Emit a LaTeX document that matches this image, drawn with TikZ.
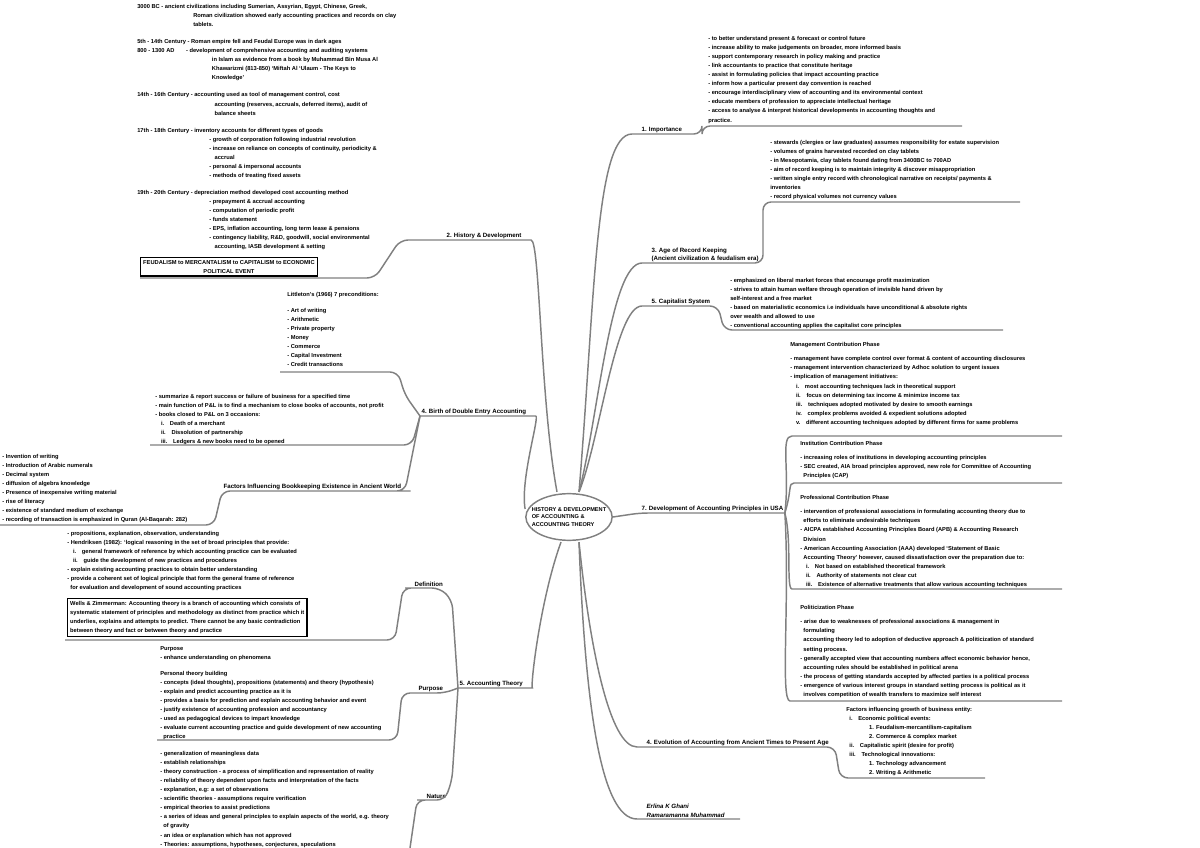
\documentclass[tikz,border=0pt]{standalone}
\usepackage{fontspec}
\setmainfont{Liberation Sans}
\usetikzlibrary{shapes.geometric}
\begin{document}
\begin{tikzpicture}[x=0.75pt,y=-0.75pt,
 txt/.style={anchor=north west,align=left,inner sep=0,font=\fontsize{4.3}{6.8}\selectfont\bfseries},
 lbl/.style={anchor=south west,inner sep=1pt,font=\fontsize{4.6}{6}\selectfont\bfseries},
 br/.style={draw=black!50,line width=1.1pt,rounded corners=6pt},
 box/.style={draw,line width=0.8pt,anchor=north west,align=center,inner sep=2pt,font=\fontsize{4.3}{6.8}\selectfont\bfseries}]
\useasboundingbox (0,0) rectangle (1200,848);
% centre
\node[ellipse,draw=black!50,line width=1.1pt,minimum width=58pt,minimum height=35pt,inner xsep=-5pt,inner ysep=-2pt,align=left,font=\fontsize{4.2}{5.6}\selectfont\bfseries] (c) at (569,517) {HISTORY \& DEVELOPMENT\\OF ACCOUNTING \&\\ACCOUNTING THEORY};

% ---------- 1. Importance
\node[lbl] (imp) at (640,134) {1. Importance};
\node[txt] (impt) at (708,36) {- to better understand present \& forecast or control future\\- increase ability to make judgements on broader, more informed basis\\- support contemporary research in policy making and practice\\- link accountants to practice that constitute heritage\\- assist in formulating policies that impact accounting practice\\- inform how a particular present day convention is reached\\- encourage interdisciplinary view of accounting and its environmental context\\- educate members of profession to appreciate intellectual heritage\\- access to analyse \& interpret historical developments in accounting thoughts and\\practice.};
\draw[br] (c.north) ++(10,-1) coordinate (c1) .. controls (595,300) and (595,134) .. (imp.south west) -- (imp.south east) -- (702,134) -- (702,126) -- (962,126);

% ---------- 3. Age of record keeping
\node[lbl,align=left,anchor=south west] (age) at (650,263) {3. Age of Record Keeping\\(Ancient civilization \& feudalism era)};
\node[txt] (aget) at (770,140) {- stewards (clergies or law graduates) assumes responsibility for estate supervision\\- volumes of grains harvested recorded on clay tablets\\- in Mesopotamia, clay tablets found dating from 3400BC to 700AD\\- aim of record keeping is to maintain integrity \& discover misappropriation\\- written single entry record with chronological narrative on receipts/ payments \&\\inventories\\- record physical volumes not currency values};
\draw[br] (c1) .. controls (598,420) and (610,263) .. (age.south west) -- (763,263) -- (763,202) -- (1020,202);

% ---------- 5. Capitalist system
\node[lbl] (cap) at (650,306) {5. Capitalist System};
\node[txt] (capt) at (730,278) {- emphasized on liberal market forces that encourage profit maximization\\- strives to attain human welfare through operation of invisible hand driven by\\self-interest and a free market\\- based on materialistic economics i.e individuals have unconditional \& absolute rights\\over wealth and allowed to use\\- conventional accounting applies the capitalist core principles};
\draw[br] (c1) .. controls (600,440) and (615,306) .. (cap.south west) -- (718,306) -- (724,330) -- (1003,330);

% ---------- 7. Development USA
\node[lbl] (usa) at (640,513) {7. Development of Accounting Principles in USA};
\draw[br] (c.east) -- (usa.south west) -- (usa.south east) coordinate (uj);
\node[txt] (m1) at (790,342) {Management Contribution Phase\\[4pt]- management have complete control over format \& content of accounting disclosures\\- management intervention characterized by Adhoc solution to urgent issues\\- implication of management initiatives:\\\quad i.\quad most accounting techniques lack in theoretical support\\\quad ii.\quad focus on determining tax income \& minimize income tax\\\quad iii.\quad techniques adopted motivated by desire to smooth earnings\\\quad iv.\quad complex problems avoided \& expedient solutions adopted\\\quad v.\quad different accounting techniques adopted by different firms for same problems};
\node[txt] (m2) at (800,441) {Institution Contribution Phase\\[4pt]- increasing roles of institutions in developing accounting principles\\- SEC created, AIA broad principles approved, new role for Committee of Accounting\\\ \ Principles (CAP)};
\node[txt] (m3) at (800,495) {Professional Contribution Phase\\[4pt]- intervention of professional associations in formulating accounting theory due to\\\ \ efforts to eliminate undesirable techniques\\- AICPA established Accounting Principles Board (APB) \& Accounting Research\\\ \ Division\\- American Accounting Association (AAA) developed `Statement of Basic\\\ \ Accounting Theory' however, caused dissatisfaction over the preparation due to:\\\quad i.\quad Not based on established theoretical framework\\\quad ii.\quad Authority of statements not clear cut\\\quad iii.\quad Existence of alternative treatments that allow various accounting techniques};
\node[txt] (m4) at (800,605) {Politicization Phase\\[4pt]- arise due to weaknesses of professional associations \& management in\\\ \ formulating\\\ \ accounting theory led to adoption of deductive approach \& politicization of standard\\\ \ setting process.\\- generally accepted view that accounting numbers affect economic behavior hence,\\\ \ accounting rules should be established in political arena\\- the process of getting standards accepted by affected parties is a political process\\- emergence of various interest groups in standard setting process is political as it\\\ \ involves competition of wealth transfers to maximize self interest};
\draw[br] (uj) .. controls (790,470) and (780,436) .. (800,436) -- (1062,436);
\draw[br] (uj) .. controls (792,490) and (788,483) .. (802,483) -- (1062,483);
\draw[br] (uj) .. controls (792,540) and (786,589) .. (800,589) -- (1062,589);
\draw[br] (uj) .. controls (790,600) and (780,701) .. (798,701) -- (1062,701);

% ---------- 4. Evolution
\node[lbl] (evo) at (645,747) {4. Evolution of Accounting from Ancient Times to Present Age};
\node[txt] (evot) at (846,707) {Factors influencing growth of business entity:\\\ \ i.\quad Economic political events:\\\qquad\qquad 1. Feudalism-mercantilism-capitalism\\\qquad\qquad 2. Commerce \& complex market\\\ \ ii.\quad Capitalistic spirit (desire for profit)\\\ \ iii.\quad Technological innovations:\\\qquad\qquad 1. Technology advancement\\\qquad\qquad 2. Writing \& Arithmetic};
\draw[br] (c.south) ++(10,1) coordinate (c2) .. controls (590,650) and (610,747) .. (evo.south west) -- (835,747) -- (840,778) -- (985,778);

% ---------- authors
\node[lbl,align=left,font=\fontsize{4.6}{6.5}\selectfont\bfseries\itshape] (au) at (645,819) {Erlina K Ghani\\Ramaramanna Muhammad};
\draw[br] (c2) .. controls (585,700) and (600,819) .. (au.south west) -- (740,819);

% ---------- 2. History
\node[lbl] (his) at (445,240) {2. History \& Development};
\node[txt] (hist) at (137,4) {3000 BC - ancient civilizations including Sumerian, Assyrian, Egypt, Chinese, Greek,\\\hspace{42pt}Roman civilization showed early accounting practices and records on clay\\\hspace{42pt}tablets.\\[6pt]5th - 14th Century - Roman empire fell and Feudal Europe was in dark ages\\800 - 1300 AD\qquad - development of comprehensive accounting and auditing systems\\\hspace{56pt}in Islam as evidence from a book by Muhammad Bin Musa Al\\\hspace{56pt}Khawarizmi (813-850) `Miftah Al `Ulaum - The Keys to\\\hspace{56pt}Knowledge'\\[6pt]14th - 16th Century - accounting used as tool of management control, cost\\\hspace{58pt}accounting (reserves, accruals, deferred items), audit of\\\hspace{58pt}balance sheets\\[6pt]17th - 18th Century - inventory accounts for different types of goods\\\hspace{54pt}- growth of corporation following industrial revolution\\\hspace{54pt}- increase on reliance on concepts of continuity, periodicity \&\\\hspace{58pt}accrual\\\hspace{54pt}- personal \& impersonal accounts\\\hspace{54pt}- methods of treating fixed assets\\[6pt]19th - 20th Century - depreciation method developed cost accounting method\\\hspace{54pt}- prepayment \& accrual accounting\\\hspace{54pt}- computation of periodic profit\\\hspace{54pt}- funds statement\\\hspace{54pt}- EPS, inflation accounting, long term lease \& pensions\\\hspace{54pt}- contingency liability, R\&D, goodwill, social environmental\\\hspace{58pt}accounting, IASB development \& setting};
\node[box] (feu) at (140,257) {FEUDALISM to MERCANTALISM to CAPITALISM to ECONOMIC\\POLITICAL EVENT};
\draw[br] (c.north) ++(-12,-1) coordinate (c3) .. controls (540,400) and (540,240) .. (his.south east) -- (his.south west) -- (400,240) -- (375,278) -- (140,278);

% ---------- 4. Birth of double entry
\node[lbl] (bir) at (420,416) {4. Birth of Double Entry Accounting};
\node[txt] (lit) at (287,292) {Littleton's (1966) 7 preconditions:\\[5pt]- Art of writing\\- Arithmetic\\- Private property\\- Money\\- Commerce\\- Capital Investment\\- Credit transactions};
\node[txt] (bt) at (155,394) {- summarize \& report success or failure of business for a specified time\\- main function of P\&L is to find a mechanism to close books of accounts, not profit\\- books closed to P\&L on 3 occasions:\\\quad i.\quad Death of a merchant\\\quad ii.\quad Dissolution of partnership\\\quad iii.\quad Ledgers \& new books need to be opened};
\draw[br] (c.west) ++(0,-8) coordinate (c4) .. controls (520,480) and (540,416) .. (bir.south east) -- (bir.south west) coordinate (bj);
\draw[br] (bj) -- (405,395) -- (398,372) -- (280,372);
\draw[br] (bj) -- (412,445) -- (150,445);

% ---------- factors ancient world
\node[lbl] (fac) at (222,491) {Factors Influencing Bookkeeping Existence in Ancient World};
\node[txt] (fact) at (2,454) {- Invention of writing\\- Introduction of Arabic numerals\\- Decimal system\\- diffusion of algebra knowledge\\- Presence of inexpensive writing material\\- rise of literacy\\- existence of standard medium of exchange\\- recording of transaction is emphasized in Quran (Al-Baqarah: 282)};
\draw[br] (bj) -- (405,491) -- (fac.south east) -- (fac.south west) -- (214,525) -- (0,525);

% ---------- 5. Accounting theory
\node[lbl] (th) at (458,688) {5. Accounting Theory};
\draw[br] (c.south) ++(-8,1) .. controls (540,600) and (530,688) .. (th.south east) -- (th.south west) coordinate (tj);
\node[lbl] (def) at (413,588) {Definition};
\node[lbl] (pur) at (417,693) {Purpose};
\node[lbl] (nat) at (425,800) {Nature};
\draw[br] (tj) -- (452,600) -- (440,588) -- (def.south west) -- (403,588) -- (395,640) -- (65,640);
\draw[br] (tj) -- (445,693) -- (pur.south west) -- (402,693) -- (397,740) -- (157,740);
\draw[br] (tj) -- (452,780) -- (445,800) -- (nat.south west) -- (417,800) -- (410,848);
\node[txt] (dt) at (67,531) {- propositions, explanation, observation, understanding\\- Hendriksen (1982): `logical reasoning in the set of broad principles that provide:\\\quad i.\quad general framework of reference by which accounting practice can be evaluated\\\quad ii.\quad guide the development of new practices and procedures\\- explain existing accounting practices to obtain better understanding\\- provide a coherent set of logical principle that form the general frame of reference\\\ \ for evaluation and development of sound accounting practices};
\node[box,align=left,inner sep=2pt] (wz) at (67,598) {Wells \& Zimmerman: Accounting theory is a branch of accounting which consists of\\systematic statement of principles and methodology as distinct from practice which it\\underlies, explains and attempts to predict. There cannot be any basic contradiction\\between theory and fact or between theory and practice};
\node[txt] (pt) at (160,646) {Purpose\\- enhance understanding on phenomena\\[5pt]Personal theory building\\- concepts (ideal thoughts), propositions (statements) and theory (hypothesis)\\- explain and predict accounting practice as it is\\- provides a basis for prediction and explain accounting behavior and event\\- justify existence of accounting profession and accountancy\\- used as pedagogical devices to impart knowledge\\- evaluate current accounting practice and guide development of new accounting\\\ \ practice};
\node[txt] (nt) at (160,751) {- generalization of meaningless data\\- establish relationships\\- theory construction - a process of simplification and representation of reality\\- reliability of theory dependent upon facts and interpretation of the facts\\- explanation, e.g: a set of observations\\- scientific theories - assumptions require verification\\- empirical theories to assist predictions\\- a series of ideas and general principles to explain aspects of the world, e.g. theory\\\ \ of gravity\\- an idea or explanation which has not approved\\- Theories: assumptions, hypotheses, conjectures, speculations};
\end{tikzpicture}
\end{document}
